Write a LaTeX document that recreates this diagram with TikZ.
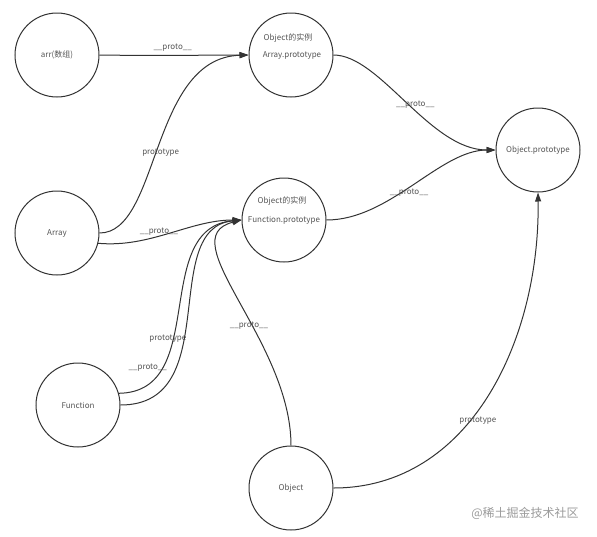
\documentclass[tikz,border=0pt]{standalone}
\usepackage{fontspec}
\setmainfont{Noto Sans CJK SC}
\usetikzlibrary{arrows.meta}
\definecolor{Ink}{HTML}{333333}
\definecolor{Label}{HTML}{555555}
\definecolor{Mark}{HTML}{9A9A9A}

\begin{document}
\begin{tikzpicture}[x=1pt,y=-1pt,
    obj/.style={draw=Ink,circle,line width=1pt,minimum size=84pt,inner sep=0pt,text=Label,font=\fontsize{8}{10}\selectfont},
    link/.style={draw=Ink,line width=1pt,-{Triangle[length=9pt,width=6pt]}},
    lbl/.style={text=Label,font=\fontsize{8}{10}\selectfont,inner sep=1pt}]
        \useasboundingbox (0,0) rectangle (597,536);
        % objects
        \node[obj] (arr) at (57,55) {arr(数组)};
        \node[obj] (arrproto) at (291,55) {};
        \node[obj] (objproto) at (538,150) {Object.prototype};
        \node[obj] (Array) at (57,233) {Array};
        \node[obj] (funcproto) at (284,220) {};
        \node[obj] (Function) at (78,405) {Function};
        \node[obj] (Object) at (291,488) {Object};
        \node[lbl] (arrinst) at (288,38) {Object的实例};
        \node[lbl] (arrname) at (292,56) {Array.prototype};
        \node[lbl] (funcinst) at (282,201) {Object的实例};
        \node[lbl] (funcname) at (284,220) {Function.prototype};
        % links
        \draw[link] (arr.east) .. controls (170,56) and (200,55) .. node[lbl,above=3pt,pos=0.43] {\_\_proto\_\_} (arrproto.west);
        \draw[link] (Array.east) .. controls (160,233) and (150,58) .. node[lbl,pos=0.47,xshift=4pt] {prototype} (arrproto.west);
        \draw[link] (Array.-14) .. controls (150,248) and (190,220) .. node[lbl,pos=0.42,yshift=5pt] {\_\_proto\_\_} (funcproto.west);
        \draw[link] (Function.16) .. controls (210,392) and (150,228) .. node[lbl,pos=0.38,xshift=-6pt] {prototype} (funcproto.west);
        \draw[link] (Function.east) .. controls (225,405) and (158,228) .. node[lbl,pos=0.25,xshift=-24pt,yshift=10pt] {\_\_proto\_\_} (funcproto.west);
        \draw[link] (Object.north) .. controls (291,340) and (170,238) .. node[lbl,pos=0.4,xshift=-4pt] {\_\_proto\_\_} (funcproto.west);
        \draw[link] (arrproto.east) .. controls (380,55) and (430,150) .. node[lbl,pos=0.5,xshift=8pt,yshift=-2pt] {\_\_proto\_\_} (objproto.west);
        \draw[link] (funcproto.east) .. controls (390,220) and (440,150) .. node[lbl,pos=0.47,yshift=-4pt] {\_\_proto\_\_} (objproto.west);
        \draw[link] (Object.east) .. controls (470,488) and (540,340) .. node[lbl,pos=0.42,xshift=8pt] {prototype} (objproto.south);
        % watermark
        \node[text=Mark,font=\fontsize{12}{14}\selectfont] (mark) at (525,513) {@稀土掘金技术社区};
\end{tikzpicture}
\end{document}
